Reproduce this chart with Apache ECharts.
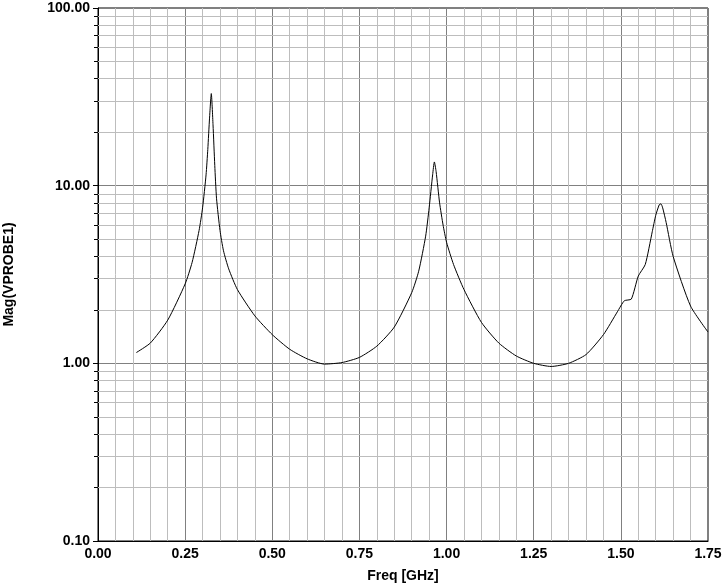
<!DOCTYPE html>
<html><head><meta charset="utf-8">
<script src="https://cdn.jsdelivr.net/npm/echarts@6/dist/echarts.min.js"></script>
<style>html,body{margin:0;padding:0;background:#fff}#c{width:723px;height:587px}</style>
</head><body><div id="c"></div>
<script>
const freq = [0.11,0.15,0.2,0.25,0.27,0.29,0.3,0.31,0.315,0.32,0.325,0.33,0.335,0.34,0.35,0.36,0.375,0.4,0.45,0.5,0.55,0.6,0.65,0.7,0.75,0.8,0.85,0.9,0.92,0.94,0.95,0.96,0.965,0.97,0.98,0.99,1.0,1.02,1.05,1.1,1.15,1.2,1.25,1.3,1.35,1.4,1.45,1.49,1.51,1.53,1.55,1.57,1.59,1.6,1.61,1.615,1.62,1.63,1.65,1.7,1.75];
const mag = [1.15,1.3,1.75,2.8,3.7,5.6,7.5,11.5,16,24,33,22,13,8.5,5.6,4.3,3.4,2.6,1.85,1.45,1.2,1.06,0.99,1.01,1.08,1.25,1.6,2.5,3.3,5.2,7.5,11.5,13.6,12,8,6,4.8,3.6,2.6,1.7,1.3,1.1,1.0,0.96,1.0,1.12,1.45,1.95,2.25,2.3,3.1,3.6,5.5,6.8,7.8,7.9,7.5,6.2,4.0,2.1,1.5];
const yMinor = [0.2,0.3,0.4,0.5,0.6,0.7,0.8,0.9,2,3,4,5,6,7,8,9,20,30,40,50,60,70,80,90];
const bold = {fontFamily:'Liberation Sans, Arial', fontWeight:'bold', fontSize:14, color:'#000'};
const chart = echarts.init(document.getElementById('c'));
chart.setOption({
  animation:false,
  grid:{left:98,right:15,top:8,bottom:46,containLabel:false,outerBoundsMode:'none',show:true,borderColor:'#000',borderWidth:1},
  xAxis:{type:'value',min:0,max:1.75,interval:0.05,
    name:'Freq [GHz]',nameLocation:'middle',nameGap:28,nameTextStyle:bold,
    axisLine:{lineStyle:{color:'#000'}},axisTick:{show:false},
    axisLabel:Object.assign({},bold,{margin:6,formatter:v=>{const k=Math.round(v*100);return k%25===0?(v.toFixed(2)):'';}}),
    splitLine:{show:true,lineStyle:{color:['#808080','#bdbdbd','#bdbdbd','#bdbdbd','#bdbdbd'],width:1}}},
  yAxis:{type:'log',min:0.1,max:100,logBase:10,
    name:'Mag(VPROBE1)',nameLocation:'middle',nameGap:82,nameTextStyle:bold,
    axisLine:{lineStyle:{color:'#000'}},axisTick:{show:true,inside:false,length:5,lineStyle:{color:'#000'}},
    minorTick:{show:true,splitNumber:9,length:4,lineStyle:{color:'#000'}},
    axisLabel:Object.assign({},bold,{margin:8,formatter:v=>v.toFixed(2)}),
    splitLine:{show:true,lineStyle:{color:'#808080'}}},
  series:[{type:'line',data:freq.map((f,i)=>[f,mag[i]]),showSymbol:false,symbol:'none',smooth:0.2,
    lineStyle:{color:'#000',width:1},z:5,
    markLine:{silent:true,symbol:'none',label:{show:false},animation:false,
      lineStyle:{color:'#bdbdbd',type:'solid',width:1},
      data:yMinor.map(v=>({yAxis:v}))}}]
});
</script></body></html>
